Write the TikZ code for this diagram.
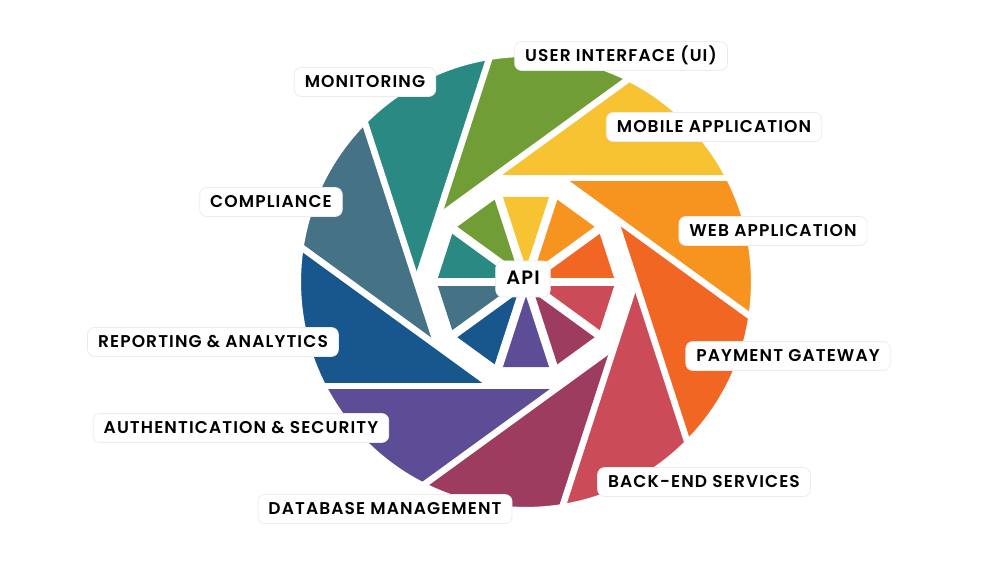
\documentclass[tikz,border=0pt]{standalone}
\usepackage{fontspec}
\setmainfont{Poppins}
\newfontfamily\tagfont[LetterSpace=6.5, BoldFont={Poppins SemiBold}]{Poppins}
\definecolor{cYellow}{HTML}{F8C333}
\definecolor{cOrange}{HTML}{F7941F}
\definecolor{cOrRed}{HTML}{F26624}
\definecolor{cRed}{HTML}{CB4B59}
\definecolor{cMaroon}{HTML}{9D3C5F}
\definecolor{cPurple}{HTML}{5C4D96}
\definecolor{cBlue}{HTML}{17578D}
\definecolor{cSlate}{HTML}{467286}
\definecolor{cTeal}{HTML}{2A8A83}
\definecolor{cGreen}{HTML}{709D35}
\tikzset{
tag/.style={fill=white, draw=black!8, line width=0.4pt, rounded corners=4pt,
  font=\tagfont\bfseries\fontsize{9.7}{12}\selectfont,
  minimum height=0.58cm, inner xsep=6pt, text height=7.2pt, text depth=0.5pt},
gap/.style={white, line width=0.13cm},
spoke/.style={white, line width=0.17cm}}

\begin{document}
\begin{tikzpicture}[x=0.02cm, y=0.02cm]
    \useasboundingbox (-526,-281) rectangle (474,282);

    \begin{scope}
        \clip (0,0) circle (226);
        \fill[cBlue]   (252:109.35) -- +(144:500) -- +(180:500) -- cycle;
        \fill[cPurple] (288:109.35) -- +(180:500) -- +(216:500) -- cycle;
        \fill[cMaroon] (324:109.35) -- +(216:500) -- +(252:500) -- cycle;
        \fill[cRed]    (0:109.35)   -- +(252:500) -- +(288:500) -- cycle;
        \fill[cOrRed]  (36:109.35)  -- +(288:500) -- +(324:500) -- cycle;
        \fill[cOrange] (72:109.35)  -- +(324:500) -- +(360:500) -- cycle;
        \fill[cYellow] (108:109.35) -- +(0:500)   -- +(36:500)  -- cycle;
        \fill[cGreen]  (144:109.35) -- +(36:500)  -- +(72:500)  -- cycle;
        \fill[cTeal]   (180:109.35) -- +(72:500)  -- +(108:500) -- cycle;
        \fill[cSlate]  (216:109.35) -- +(108:500) -- +(144:500) -- cycle;
        \foreach \a in {0,36,...,324}
            \draw[gap] (\a:109.35) -- +({\a-108}:500);
    \end{scope}
    \draw[white, line width=1.2pt] (0,0) circle (226);

    \fill[cYellow] (0,0) -- (72:89.4)  -- (108:89.4) -- cycle;
    \fill[cOrange] (0,0) -- (36:89.4)  -- (72:89.4)  -- cycle;
    \fill[cOrRed]  (0,0) -- (0:89.4)   -- (36:89.4)  -- cycle;
    \fill[cRed]    (0,0) -- (324:89.4) -- (360:89.4) -- cycle;
    \fill[cMaroon] (0,0) -- (288:89.4) -- (324:89.4) -- cycle;
    \fill[cPurple] (0,0) -- (252:89.4) -- (288:89.4) -- cycle;
    \fill[cBlue]   (0,0) -- (216:89.4) -- (252:89.4) -- cycle;
    \fill[cSlate]  (0,0) -- (180:89.4) -- (216:89.4) -- cycle;
    \fill[cTeal]   (0,0) -- (144:89.4) -- (180:89.4) -- cycle;
    \fill[cGreen]  (0,0) -- (108:89.4) -- (144:89.4) -- cycle;
    \foreach \a in {0,36,...,324}
        \draw[spoke] (0,0) -- (\a:95);

    \node[tag, minimum height=0.72cm, minimum width=1.06cm, font=\tagfont\bfseries\fontsize{11}{12}\selectfont] (api) at (-3,3) {API};

    \node[tag] (ui)   at (95,226)   {USER INTERFACE (UI)};
    \node[tag] (mob)  at (188,155)  {MOBILE APPLICATION};
    \node[tag] (web)  at (247,51)   {WEB APPLICATION};
    \node[tag] (pay)  at (262,-74)  {PAYMENT GATEWAY};
    \node[tag] (back) at (178,-200) {BACK-END SERVICES};
    \node[tag] (db)   at (-141,-227) {DATABASE MANAGEMENT};
    \node[tag] (auth) at (-285,-146) {AUTHENTICATION \& SECURITY};
    \node[tag] (rep)  at (-313,-60) {REPORTING \& ANALYTICS};
    \node[tag] (comp) at (-255,80)  {COMPLIANCE};
    \node[tag] (mon)  at (-161,200) {MONITORING};

\end{tikzpicture}
\end{document}
